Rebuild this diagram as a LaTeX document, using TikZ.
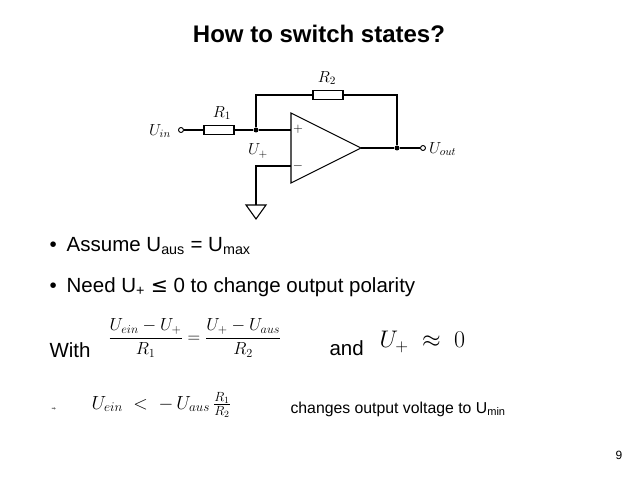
\RequirePackage{fix-cm}
\documentclass[tikz,border=0pt]{standalone}
\usepackage{fontspec}
\setmainfont{Liberation Sans}
\newfontfamily\djv{DejaVu Sans}
\begin{document}
\begin{tikzpicture}[x=1pt,y=-1pt,
  wire/.style={line width=1.1pt},
  res/.style={draw,line width=1.1pt,minimum width=30pt,minimum height=9pt,inner sep=0pt},
  term/.style={circle,draw,line width=0.9pt,fill=white,inner sep=0pt,minimum size=5pt},
  dot/.style={circle,fill,inner sep=0pt,minimum size=5pt},
  lbl/.style={inner sep=1pt,font=\fontsize{16}{18}\selectfont}]
\useasboundingbox (0,0) rectangle (638,478);
\node[font=\bfseries\fontsize{24}{28}\selectfont] (title) at (319,34) {How to switch states?};
% circuit
\coordinate (ot) at (291,113); \coordinate (ob) at (291,183); \coordinate (oo) at (361,148);
\draw[wire] (ot) -- (oo) -- (ob) -- cycle;
\node[font=\fontsize{13}{13}\selectfont,inner sep=0] (pl) at (298,129) {$+$};
\node[font=\fontsize{13}{13}\selectfont,inner sep=0] (mi) at (298,166) {$-$};
\node[term] (tin) at (181,130) {};
\node[res] (r1) at (219,130) {};
\node[dot] (j1) at (256,130) {};
\coordinate (pin) at (291,130);
\coordinate (nin) at (291,166);
\node[res] (r2) at (328,95) {};
\coordinate (c1) at (256,95); \coordinate (c2) at (397,95);
\node[dot] (j2) at (397,148) {};
\node[term] (tout) at (423,148) {};
\draw[wire] (tin) -- (r1) -- (j1) -- (pin);
\draw[wire] (j1) -- (c1) -- (r2) -- (c2) -- (j2);
\draw[wire] (oo) -- (j2) -- (tout);
\coordinate (g) at (256,205);
\draw[wire] (nin) -- (256,166) -- (g);
\draw[wire] (246,205) -- (266,205) -- (256,219) -- cycle;
\node[lbl,anchor=east] (lin) at (172,131) {$U_{in}$};
\node[lbl] (lr1) at (222,113) {$R_1$};
\node[lbl] (lr2) at (327,78) {$R_2$};
\node[lbl] (lup) at (258,151) {$U_+$};
\node[lbl,anchor=west] (lout) at (428,149) {$U_{out}$};
% bullets
\node[anchor=west,font=\fontsize{20.5}{24}\selectfont] (b1) at (46,246) {•\hspace{10pt}Assume U\textsubscript{aus} = U\textsubscript{max}};
\node[anchor=west,font=\fontsize{20.5}{24}\selectfont] (b2) at (46,287) {•\hspace{10pt}Need U\textsubscript{+} {\djv ≤} 0 to change output polarity};
\node[anchor=west,font=\fontsize{20.5}{24}\selectfont] (w) at (46,350) {With};
\node[anchor=west,font=\fontsize{17.5}{21}\selectfont] (eq) at (105,338) {$\displaystyle\frac{U_{ein}-U_+}{R_1}=\frac{U_+-U_{aus}}{R_2}$};
\node[anchor=west,font=\fontsize{20.5}{24}\selectfont] (and) at (326,348) {and};
\node[anchor=west,font=\fontsize{24}{28}\selectfont] (ap) at (376,342) {$U_+\;\approx\;0$};
\node[anchor=west,font=\fontsize{5}{6}\selectfont] (imp) at (48,409) {\djv ⇒};
\node[anchor=west,font=\fontsize{19}{22}\selectfont] (ineq) at (88,405) {$U_{ein}\;<\;-\,U_{aus}\,\frac{R_1}{R_2}$};
\node[anchor=west,font=\fontsize{15.8}{18}\selectfont] (ch) at (287,409) {changes output voltage to U\textsubscript{min}};
\node[font=\fontsize{12}{14}\selectfont] (pg) at (619,455) {9};
\end{tikzpicture}
\end{document}
